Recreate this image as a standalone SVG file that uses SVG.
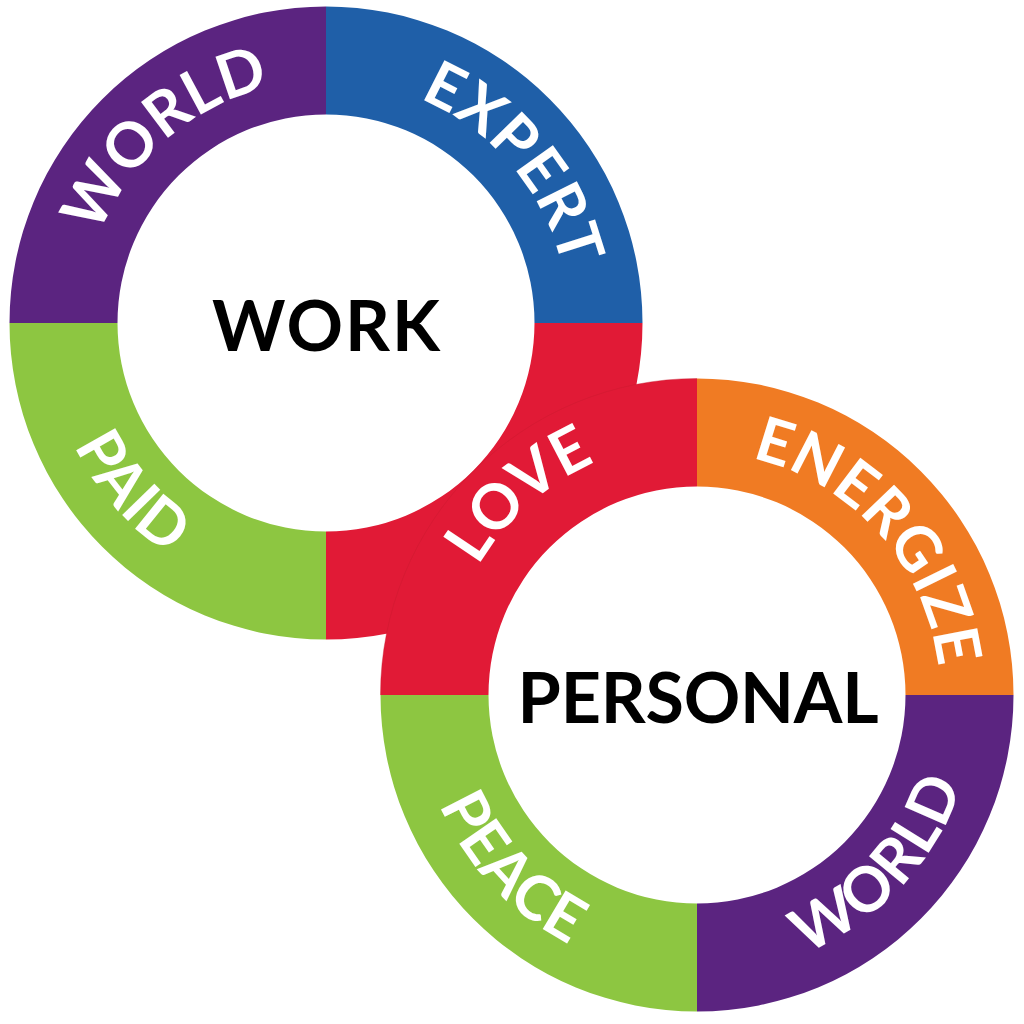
<svg xmlns="http://www.w3.org/2000/svg" xmlns:xlink="http://www.w3.org/1999/xlink" width="1024" height="1024" viewBox="0 0 1024 1024">
  <style>
    .purple { fill: #5b2480; }
    .blue { fill: #1f5fa8; }
    .red { fill: #e11a36; }
    .green { fill: #8dc641; }
    .orange { fill: #f07b23; }
    .seg-label { font-family: Lato, "Open Sans", "Liberation Sans", sans-serif; font-weight: 700; font-size: 62px; fill: #ffffff; letter-spacing: 0.5px; }
    .center-label { font-family: Lato, "Open Sans", "Liberation Sans", sans-serif; font-weight: 700; font-size: 70px; fill: #000000; }
  </style>
  <defs>
    <path id="p-work-world" d="M83,323 A243,243 0 0 1 326,80"/>
    <path id="p-work-expert" d="M326,80 A243,243 0 0 1 569,323"/>
    <path id="p-work-paid" d="M46,323 A280,280 0 0 0 326,603"/>
    <path id="p-love" d="M443,695 A254,254 0 0 1 697,441"/>
    <path id="p-energize" d="M697,452 A243,243 0 0 1 940,695"/>
    <path id="p-pers-world" d="M697,975 A280,280 0 0 0 977,695"/>
    <path id="p-peace" d="M417,695 A280,280 0 0 0 697,975"/>
  </defs>
  <rect width="1024" height="1024" fill="#ffffff"/>

  <g id="ring-work">
    <g id="work-world">
      <path class="purple" d="M9.5,323 A316.5,316.5 0 0 1 326,6.5 L326,114.5 A208.5,208.5 0 0 0 117.5,323 Z"/>
      <text class="seg-label"><textPath xlink:href="#p-work-world" startOffset="54.4%" text-anchor="middle">WORLD</textPath></text>
    </g>
    <g id="work-expert">
      <path class="blue" d="M326,6.5 A316.5,316.5 0 0 1 642.5,323 L534.5,323 A208.5,208.5 0 0 0 326,114.5 Z"/>
      <text class="seg-label"><textPath xlink:href="#p-work-expert" startOffset="55.3%" text-anchor="middle">EXPERT</textPath></text>
    </g>
    <g id="work-love">
      <path class="red" d="M642.5,323 A316.5,316.5 0 0 1 326,639.5 L326,531.5 A208.5,208.5 0 0 0 534.5,323 Z"/>
    </g>
    <g id="work-paid">
      <path class="green" d="M326,639.5 A316.5,316.5 0 0 1 9.5,323 L117.5,323 A208.5,208.5 0 0 0 326,531.5 Z"/>
      <text class="seg-label"><textPath xlink:href="#p-work-paid" startOffset="45.5%" text-anchor="middle">PAID</textPath></text>
    </g>
    <g id="work-center">
      <text class="center-label" x="326" y="351" text-anchor="middle" textLength="228">WORK</text>
    </g>
  </g>

  <g id="ring-personal">
    <g id="personal-love">
      <path class="red" d="M380.5,695 A316.5,316.5 0 0 1 697,378.5 L697,486.5 A208.5,208.5 0 0 0 488.5,695 Z"/>
      <path d="M380.5,695 A316.5,316.5 0 0 1 697,378.5" fill="none" stroke="#c81c30" stroke-width="0.8" stroke-opacity="0.5"/>
      <text class="seg-label"><textPath xlink:href="#p-love" startOffset="53.9%" text-anchor="middle">LOVE</textPath></text>
    </g>
    <g id="personal-energize">
      <path class="orange" d="M697,378.5 A316.5,316.5 0 0 1 1013.5,695 L905.5,695 A208.5,208.5 0 0 0 697,486.5 Z"/>
      <text class="seg-label"><textPath xlink:href="#p-energize" startOffset="53.6%" text-anchor="middle">ENERGIZE</textPath></text>
    </g>
    <g id="personal-world">
      <path class="purple" d="M1013.5,695 A316.5,316.5 0 0 1 697,1011.5 L697,903.5 A208.5,208.5 0 0 0 905.5,695 Z"/>
      <text class="seg-label"><textPath xlink:href="#p-pers-world" startOffset="52.2%" text-anchor="middle">WORLD</textPath></text>
    </g>
    <g id="personal-peace">
      <path class="green" d="M697,1011.5 A316.5,316.5 0 0 1 380.5,695 L488.5,695 A208.5,208.5 0 0 0 697,903.5 Z"/>
      <text class="seg-label"><textPath xlink:href="#p-peace" startOffset="47.8%" text-anchor="middle">PEACE</textPath></text>
    </g>
    <g id="personal-center">
      <text class="center-label" x="698" y="723" text-anchor="middle" textLength="361">PERSONAL</text>
    </g>
  </g>

  <g id="connectors"/>
</svg>
